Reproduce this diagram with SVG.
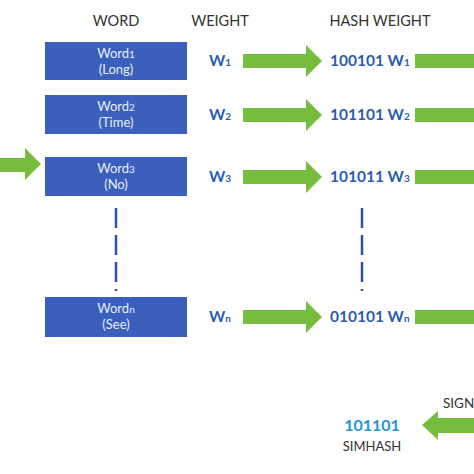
<svg xmlns="http://www.w3.org/2000/svg" width="474" height="474" viewBox="0 0 474 474">
<style>
.hdr{font-family:Lato,"Open Sans","Liberation Sans",sans-serif;font-size:14.5px;fill:#333;text-anchor:middle}
.box{fill:#3a5fbd}
.bt{font-family:Lato,"Open Sans","Liberation Sans",sans-serif;font-size:13px;fill:#e8eef9;text-anchor:middle}
.w{font-family:Lato,"Open Sans","Liberation Sans",sans-serif;font-size:15.5px;font-weight:bold;fill:#2b5ea8}
.sub{font-size:10px}
.arr{fill:#77bd3d}
.dash{stroke:#2f52a8;stroke-width:2.5;stroke-dasharray:20 7;fill:none}
</style>
<rect width="474" height="474" fill="#fff"/>
<g id="headers">
<text class="hdr" x="116" y="26">WORD</text>
<text class="hdr" x="220" y="26">WEIGHT</text>
<text class="hdr" x="380" y="26">HASH WEIGHT</text>
</g>
<g id="word1"><rect class="box" x="45" y="42" width="142" height="38"/><text class="bt" x="116" y="58">Word<tspan class="sub">1</tspan></text><text class="bt" x="116" y="74">(Long)</text></g>
<g id="word2"><rect class="box" x="45" y="95" width="142" height="39"/><text class="bt" x="116" y="111">Word<tspan class="sub">2</tspan></text><text class="bt" x="116" y="127">(Time)</text></g>
<g id="word3"><rect class="box" x="45" y="157" width="142" height="39"/><text class="bt" x="116" y="173">Word<tspan class="sub">3</tspan></text><text class="bt" x="116" y="189">(No)</text></g>
<g id="wordn"><rect class="box" x="45" y="297" width="142" height="40"/><text class="bt" x="116" y="313">Word<tspan class="sub">n</tspan></text><text class="bt" x="116" y="329">(See)</text></g>
<g id="weights">
<text class="w" x="209" y="66">W<tspan class="sub">1</tspan></text>
<text class="w" x="209" y="120">W<tspan class="sub">2</tspan></text>
<text class="w" x="209" y="182">W<tspan class="sub">3</tspan></text>
<text class="w" x="209" y="322">W<tspan class="sub">n</tspan></text>
</g>
<g id="hashes">
<text class="w" x="330" y="66">100101 W<tspan class="sub">1</tspan></text>
<text class="w" x="330" y="120">101101 W<tspan class="sub">2</tspan></text>
<text class="w" x="330" y="182">101011 W<tspan class="sub">3</tspan></text>
<text class="w" x="330" y="322">010101 W<tspan class="sub">n</tspan></text>
</g>
<g id="simhash">
<text x="372" y="431" text-anchor="middle" font-family="Lato,'Open Sans','Liberation Sans',sans-serif" font-size="16" font-weight="bold" fill="#2196d3">101101</text>
<text x="372" y="451" text-anchor="middle" font-family="Lato,'Open Sans','Liberation Sans',sans-serif" font-size="13" fill="#333">SIMHASH</text>
<text x="443" y="408" font-family="Lato,'Open Sans','Liberation Sans',sans-serif" font-size="13.5" fill="#333">SIGN</text>
</g>
<g id="connectors">
<polygon class="arr" points="0,158 25,158 25,148 41,164 25,180 25,172 0,172"/>
<polygon class="arr" points="243,54 306,54 306,45 322,61 306,77 306,68 243,68"/>
<polygon class="arr" points="243,108 306,108 306,99 322,115 306,131 306,122 243,122"/>
<polygon class="arr" points="243,170 306,170 306,161 322,177 306,193 306,184 243,184"/>
<polygon class="arr" points="243,310 306,310 306,301 322,317 306,333 306,324 243,324"/>
<rect class="arr" x="415" y="54" width="59" height="14"/>
<rect class="arr" x="415" y="108" width="59" height="14"/>
<rect class="arr" x="415" y="170" width="59" height="14"/>
<rect class="arr" x="415" y="310" width="59" height="14"/>
<polygon class="arr" points="474,418 438,418 438,411 422,425 438,440 438,433 474,433"/>
<line class="dash" x1="116" y1="208" x2="116" y2="291"/>
<line class="dash" x1="362" y1="208" x2="362" y2="291"/>
</g>
</svg>
